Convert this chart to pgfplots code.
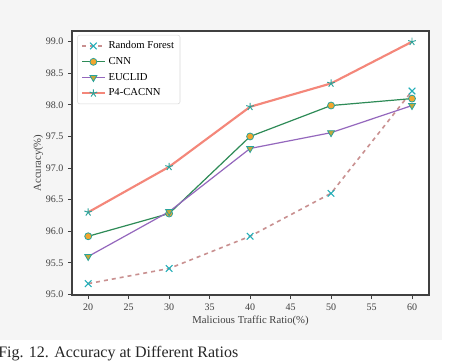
\documentclass[border=0pt]{standalone}
\usepackage{pgfplots}
\pgfplotsset{compat=1.18}
\usepackage{fontspec}
\setmainfont{Liberation Serif}
\definecolor{rfline}{HTML}{C99090}
\definecolor{rfmark}{HTML}{22AEB8}
\definecolor{cnnline}{HTML}{2E8B57}
\definecolor{cnnfill}{HTML}{F2A62E}
\definecolor{euline}{HTML}{9467BD}
\definecolor{eufill}{HTML}{C2A83A}
\definecolor{pline}{HTML}{F4877A}
\definecolor{pfill}{HTML}{9AD2A8}
\definecolor{medge}{HTML}{2AA39A}
\definecolor{axc}{HTML}{404040}
\begin{document}
\begin{tikzpicture}[x=0.75pt,y=0.75pt]
\fill[black!4] (0,22) rectangle (442,362);
\begin{axis}[
  at={(72*0.75pt,67*0.75pt)}, anchor=south west,
  scale only axis, width=357*0.75pt, height=264*0.75pt,
  xmin=18, xmax=62.1, ymin=94.99, ymax=99.17,
  xtick={20,25,...,60},
  ytick={95,95.5,...,99},
  yticklabel style={/pgf/number format/fixed,/pgf/number format/fixed zerofill,/pgf/number format/precision=1},
  /pgf/number format/assume math mode=true,
  tick label style={font=\fontsize{7.5}{8}\selectfont, text=black!75},
  tick align=outside, tick pos=lower,
  major tick length=3pt,
  every tick/.style={axc, line width=0.6pt},
  axis line style={axc, line width=0.8pt},
  axis background/.style={fill=white},
  xlabel={Malicious Traffic Ratio(\%)},
  ylabel={Accuracy(\%)},
  label style={font=\fontsize{8}{9}\selectfont, text=black!75},
  xlabel style={yshift=3pt},
  ylabel style={yshift=-5pt},
  legend style={font=\fontsize{8}{9}\selectfont, draw=black!15, rounded corners=1.5pt, at={(0.015,0.985)}, anchor=north west, row sep=1pt, inner sep=2.5pt},
  legend cell align=left,
]
\addplot[rfline, dashed, line width=1.2pt, mark=x, mark size=3.5pt, mark options={solid, draw=rfmark, line width=0.8pt}]
  coordinates {(20,95.17) (30,95.41) (40,95.92) (50,96.60) (60,98.22)};
\addlegendentry{Random Forest}
\addplot[cnnline, line width=0.9pt, mark=*, mark size=2.6pt, mark options={fill=cnnfill, draw=medge, line width=0.6pt}]
  coordinates {(20,95.92) (30,96.28) (40,97.50) (50,97.99) (60,98.10)};
\addlegendentry{CNN}
\addplot[euline, line width=0.9pt, mark=triangle*, mark size=3pt, mark options={rotate=180, fill=eufill, draw=medge, line width=0.6pt}]
  coordinates {(20,95.60) (30,96.31) (40,97.31) (50,97.56) (60,97.99)};
\addlegendentry{EUCLID}
\addplot[pline, line width=1.6pt, mark=star, mark size=3pt, mark options={draw=medge, line width=0.7pt}]
  coordinates {(20,96.30) (30,97.02) (40,97.97) (50,98.34) (60,99.0)};
\addlegendentry{P4-CACNN}
\end{axis}
\node[anchor=base west, font=\fontsize{12}{13}\selectfont, text=black!85, inner sep=0pt] at (-2,5) {Fig. 12. Accuracy at Different Ratios};
\pgfresetboundingbox
\path[use as bounding box] (0,0) rectangle (474,362);
\end{tikzpicture}
\end{document}
